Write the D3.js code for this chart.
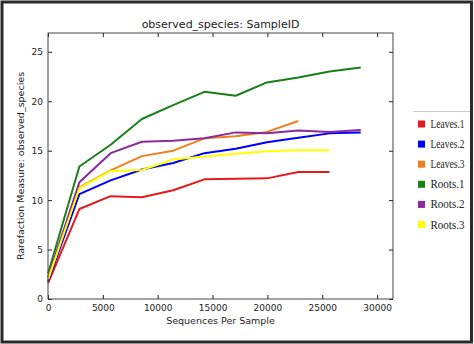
<!DOCTYPE html>
<html>
<head>
<meta charset="utf-8">
<script src="https://cdn.jsdelivr.net/npm/d3@7"></script>
<style>
  html, body { margin: 0; padding: 0; background: #fff; }
  svg { display: block; }
</style>
</head>
<body>
<svg id="chart" width="474" height="344"></svg>
<script>
// Rarefaction depths (sequences per sample)
const depths = [10, 2860, 5710, 8560, 11410, 14260, 17110, 19960, 22810, 25660, 28510];

// Observed species per sample at each depth
const leaves1 = [1.6, 9.1, 10.4, 10.3, 11.0, 12.1, 12.15, 12.2, 12.85, 12.85];
const leaves2 = [1.8, 10.6, 12.0, 13.1, 13.75, 14.75, 15.2, 15.85, 16.3, 16.75, 16.85];
const leaves3 = [2.0, 11.3, 13.0, 14.45, 15.0, 16.25, 16.45, 16.9, 18.0];
const roots1  = [2.6, 13.4, 15.6, 18.2, 19.6, 20.95, 20.55, 21.9, 22.4, 23.0, 23.4];
const roots2  = [2.2, 11.8, 14.75, 15.9, 16.0, 16.25, 16.85, 16.75, 17.05, 16.9, 17.1];
const roots3  = [2.0, 11.2, 12.95, 13.05, 14.1, 14.4, 14.7, 14.95, 15.05, 15.05];

const seriesNames  = ["Leaves.1", "Leaves.2", "Leaves.3", "Roots.1", "Roots.2", "Roots.3"];
const seriesValues = [leaves1, leaves2, leaves3, roots1, roots2, roots3];
const seriesColors = ["#e41a1c", "#0000ff", "#f07f1e", "#1a7f1a", "#8b2a9b", "#ffff00"];

const xTicks = [0, 5000, 10000, 15000, 20000, 25000, 30000];
const yTicks = [0, 5, 10, 15, 20, 25];

const titleText = "observed_species: SampleID";
const xLabelText = "Sequences Per Sample";
const yLabelText = "Rarefaction Measure: observed_species";

const svg = d3.select("#chart");
const W = 474, H = 344;
const plot = { left: 48, right: 393, top: 33, bottom: 299 };

const x = d3.scaleLinear().domain([0, 31450]).range([plot.left, plot.right]);
const y = d3.scaleLinear().domain([0, 26.9]).range([plot.bottom, plot.top]);

// outer frame
svg.append("rect")
  .attr("x", 2).attr("y", 2).attr("width", W - 4.5).attr("height", H - 4)
  .attr("fill", "none").attr("stroke", "#2a2a2a").attr("stroke-width", 3);

// series lines
const line = d3.line()
  .x((d, i) => x(depths[i]))
  .y(d => y(d));

const g = svg.append("g");
seriesValues.forEach((vals, k) => {
  g.append("path")
    .datum(vals)
    .attr("d", line)
    .attr("fill", "none")
    .attr("stroke", seriesColors[k])
    .attr("stroke-width", 2)
    .attr("stroke-linejoin", "round");
});

// axes with inward ticks on all four sides
const tickFont = "DejaVu Sans, sans-serif";
function styleAxis(sel) {
  sel.select(".domain").remove();
  sel.selectAll("line").attr("stroke", "#222").attr("stroke-width", 1);
  sel.selectAll("text").attr("font-family", tickFont).attr("font-size", 9).attr("fill", "#222");
}

svg.append("g")
  .attr("transform", `translate(0,${plot.bottom})`)
  .call(d3.axisBottom(x).tickValues(xTicks).tickFormat(d3.format("d")).tickSizeInner(-4).tickSizeOuter(0).tickPadding(6))
  .call(styleAxis);
svg.append("g")
  .attr("transform", `translate(0,${plot.top})`)
  .call(d3.axisTop(x).tickValues(xTicks).tickFormat("").tickSizeInner(-4).tickSizeOuter(0))
  .call(styleAxis);
svg.append("g")
  .attr("transform", `translate(${plot.left},0)`)
  .call(d3.axisLeft(y).tickValues(yTicks).tickFormat(d3.format("d")).tickSizeInner(-4).tickSizeOuter(0).tickPadding(5))
  .call(styleAxis);
svg.append("g")
  .attr("transform", `translate(${plot.right},0)`)
  .call(d3.axisRight(y).tickValues(yTicks).tickFormat("").tickSizeInner(-4).tickSizeOuter(0))
  .call(styleAxis);

// plot frame
svg.append("rect")
  .attr("x", plot.left).attr("y", plot.top)
  .attr("width", plot.right - plot.left).attr("height", plot.bottom - plot.top)
  .attr("fill", "none").attr("stroke", "#444").attr("stroke-width", 1);

// title and axis labels
svg.append("text")
  .attr("x", (plot.left + plot.right) / 2).attr("y", 28)
  .attr("text-anchor", "middle")
  .attr("font-family", tickFont).attr("font-size", 11).attr("fill", "#222")
  .text(titleText);
svg.append("text")
  .attr("x", (plot.left + plot.right) / 2).attr("y", 324)
  .attr("text-anchor", "middle")
  .attr("font-family", tickFont).attr("font-size", 9.5).attr("fill", "#222")
  .text(xLabelText);
svg.append("text")
  .attr("transform", `translate(24,${(plot.top + plot.bottom) / 2}) rotate(-90)`)
  .attr("text-anchor", "middle")
  .attr("font-family", tickFont).attr("font-size", 9.5).attr("fill", "#222")
  .text(yLabelText);

// legend
const legend = svg.append("g");
legend.append("line")
  .attr("x1", 413).attr("x2", 470).attr("y1", 111.5).attr("y2", 111.5)
  .attr("stroke", "#ccc").attr("stroke-width", 1);
const ly = d3.scalePoint().domain(seriesNames).range([124, 224.5]);
seriesNames.forEach((name, k) => {
  legend.append("rect")
    .attr("x", 418).attr("y", ly(name) - 3.5)
    .attr("width", 7).attr("height", 7)
    .attr("fill", seriesColors[k]);
  legend.append("text")
    .attr("x", 430.5).attr("y", ly(name) + 4)
    .attr("font-family", "Liberation Serif, Times New Roman, serif")
    .attr("font-size", 12).attr("fill", "#222")
    .attr("textLength", 34).attr("lengthAdjust", "spacingAndGlyphs")
    .text(name);
});
</script>
</body>
</html>
